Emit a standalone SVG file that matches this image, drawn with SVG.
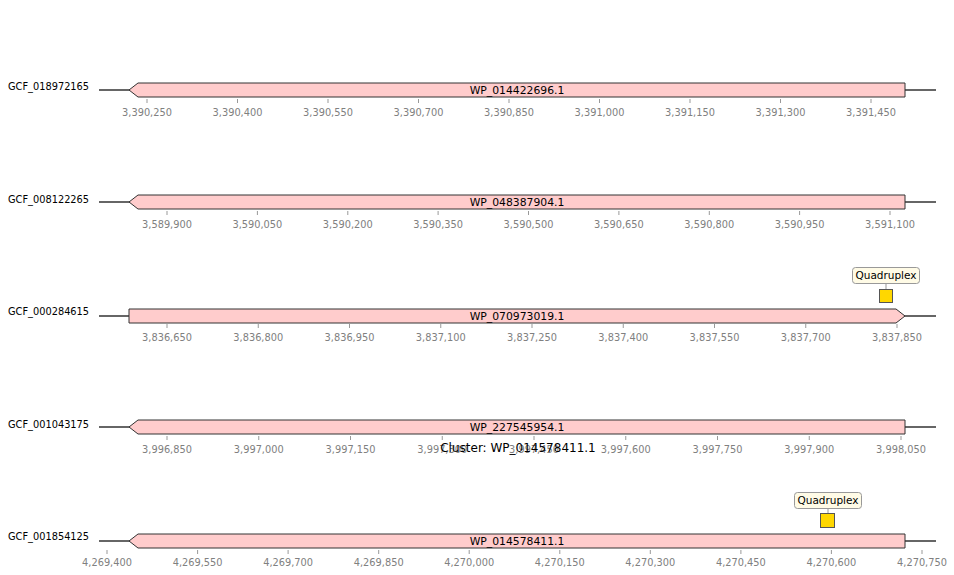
<svg xmlns="http://www.w3.org/2000/svg" width="954" height="575" viewBox="0 0 954 575">
<style>
text{font-family:"DejaVu Sans",sans-serif}
.lbl{font-size:9.8px;fill:#000}
.gn{font-size:10.8px;fill:#000;text-anchor:middle}
.tk{font-size:9.8px;fill:#808080;text-anchor:middle}
.ax{stroke:#333;stroke-width:1.5;fill:none}
.gene{fill:#ffcccc;stroke:#333;stroke-width:1}
.tm{stroke:#999;stroke-width:1}
.q{fill:#ffd700;stroke:#555;stroke-width:1}
.qb{fill:#fffbe6;stroke:#999;stroke-width:1}
.ql{font-size:10.5px;fill:#000;text-anchor:middle}
</style>
<rect width="954" height="575" fill="#fff"/>
<g id="row1">
<text class="lbl" x="8" y="90">GCF_018972165</text>
<line class="ax" x1="99" y1="90" x2="936" y2="90"/>
<path class="gene" d="M129,90 L138,83 L905,83 L905,97 L138,97 Z"/>
<text class="gn" x="517" y="93.5">WP_014422696.1</text>
<g class="tm"><path d="M147,99v4M237.5,99v4M328,99v4M418.5,99v4M509,99v4M599.5,99v4M690,99v4M780.5,99v4M871,99v4"/></g>
<text class="tk" y="116"><tspan x="147">3,390,250</tspan><tspan x="237.5">3,390,400</tspan><tspan x="328">3,390,550</tspan><tspan x="418.5">3,390,700</tspan><tspan x="509">3,390,850</tspan><tspan x="599.5">3,391,000</tspan><tspan x="690">3,391,150</tspan><tspan x="780.5">3,391,300</tspan><tspan x="871">3,391,450</tspan></text>
</g>
<g id="row2">
<text class="lbl" x="8" y="203">GCF_008122265</text>
<line class="ax" x1="99" y1="202" x2="936" y2="202"/>
<path class="gene" d="M129,202 L138,195 L905,195 L905,209 L138,209 Z"/>
<text class="gn" x="517" y="205.5">WP_048387904.1</text>
<g class="tm"><path d="M167,211v4M257.4,211v4M347.8,211v4M438.1,211v4M528.5,211v4M618.9,211v4M709.3,211v4M799.6,211v4M890,211v4"/></g>
<text class="tk" y="228"><tspan x="167">3,589,900</tspan><tspan x="257.4">3,590,050</tspan><tspan x="347.8">3,590,200</tspan><tspan x="438.1">3,590,350</tspan><tspan x="528.5">3,590,500</tspan><tspan x="618.9">3,590,650</tspan><tspan x="709.3">3,590,800</tspan><tspan x="799.6">3,590,950</tspan><tspan x="890">3,591,100</tspan></text>
</g>
<g id="row3">
<text class="lbl" x="8" y="315">GCF_000284615</text>
<line class="ax" x1="99" y1="316" x2="936" y2="316"/>
<path class="gene" d="M129,309 L896,309 L905,316 L896,323 L129,323 Z"/>
<text class="gn" x="517" y="319.5">WP_070973019.1</text>
<g class="tm"><path d="M167,324v4M258.25,324v4M349.5,324v4M440.75,324v4M532,324v4M623.25,324v4M714.5,324v4M805.75,324v4M897,324v4"/></g>
<text class="tk" y="341"><tspan x="167">3,836,650</tspan><tspan x="258.25">3,836,800</tspan><tspan x="349.5">3,836,950</tspan><tspan x="440.75">3,837,100</tspan><tspan x="532">3,837,250</tspan><tspan x="623.25">3,837,400</tspan><tspan x="714.5">3,837,550</tspan><tspan x="805.75">3,837,700</tspan><tspan x="897">3,837,850</tspan></text>
<g id="quad1">
<line x1="886" y1="283" x2="886" y2="289" stroke="#999"/>
<rect class="q" x="879.5" y="289.5" width="13" height="13"/>
<rect class="qb" x="852.5" y="267.5" width="67" height="16" rx="3"/>
<text class="ql" x="886" y="279">Quadruplex</text>
</g>
</g>
<g id="row4">
<text class="lbl" x="8" y="428">GCF_001043175</text>
<line class="ax" x1="99" y1="427" x2="936" y2="427"/>
<path class="gene" d="M129,427 L138,420 L905,420 L905,434 L138,434 Z"/>
<text class="gn" x="517" y="430.5">WP_227545954.1</text>
<g class="tm"><path d="M167,436v4M258.75,436v4M350.5,436v4M442.25,436v4M534,436v4M625.75,436v4M717.5,436v4M809.25,436v4M901,436v4"/></g>
<text class="tk" y="453"><tspan x="167">3,996,850</tspan><tspan x="258.75">3,997,000</tspan><tspan x="350.5">3,997,150</tspan><tspan x="442.25">3,997,300</tspan><tspan x="534">3,997,450</tspan><tspan x="625.75">3,997,600</tspan><tspan x="717.5">3,997,750</tspan><tspan x="809.25">3,997,900</tspan><tspan x="901">3,998,050</tspan></text>
</g>
<g id="row5">
<text class="lbl" x="8" y="540">GCF_001854125</text>
<line class="ax" x1="99" y1="541" x2="936" y2="541"/>
<path class="gene" d="M129,541 L138,534 L905,534 L905,548 L138,548 Z"/>
<text class="gn" x="517" y="544.5">WP_014578411.1</text>
<g class="tm"><path d="M107,550v4M197.6,550v4M288.1,550v4M378.7,550v4M469.2,550v4M559.8,550v4M650.3,550v4M740.9,550v4M831.4,550v4M922,550v4"/></g>
<text class="tk" y="566"><tspan x="107">4,269,400</tspan><tspan x="197.6">4,269,550</tspan><tspan x="288.1">4,269,700</tspan><tspan x="378.7">4,269,850</tspan><tspan x="469.2">4,270,000</tspan><tspan x="559.8">4,270,150</tspan><tspan x="650.3">4,270,300</tspan><tspan x="740.9">4,270,450</tspan><tspan x="831.4">4,270,600</tspan><tspan x="922">4,270,750</tspan></text>
<g id="quad2">
<line x1="828" y1="508" x2="828" y2="514" stroke="#999"/>
<rect class="q" x="820.5" y="513.5" width="14" height="14"/>
<rect class="qb" x="794.5" y="492.5" width="67" height="16" rx="3"/>
<text class="ql" x="828" y="504">Quadruplex</text>
</g>
</g>
<text x="518" y="452" font-size="12" text-anchor="middle" fill="#000">Cluster: WP_014578411.1</text>
<g id="connectors"/>
</svg>
